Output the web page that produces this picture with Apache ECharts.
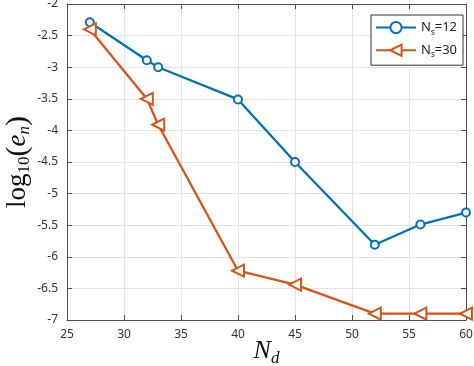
<!DOCTYPE html>
<html><head><meta charset="utf-8">
<script src="https://cdn.jsdelivr.net/npm/echarts@6/dist/echarts.min.js"></script>
<style>html,body{margin:0;padding:0;background:#fff}#c{width:474px;height:366px}</style>
</head><body><div id="c"></div>
<script>
const nd = [27, 32, 33, 40, 45, 52, 56, 60];
const ns12 = [-2.29, -2.89, -3.0, -3.51, -4.5, -5.81, -5.49, -5.3];
const ns30 = [-2.4, -3.5, -3.91, -6.22, -6.44, -6.9, -6.9, -6.9];
const seriesNames = ['Ns12', 'Ns30'];
const legendLabels = {Ns12: 'N{s|s}=12', Ns30: 'N{s|s}=30'};

const axisColor = '#4d4d4d';
const labelFont = {fontFamily: 'Noto Sans', fontSize: 12, color: '#333'};
const chart = echarts.init(document.getElementById('c'), null, {renderer: 'canvas'});
const xBase = {type: 'value', min: 25, max: 60, interval: 5,
  axisLine: {show: true, lineStyle: {color: axisColor, width: 1}},
  axisTick: {show: true, inside: true, length: 5, lineStyle: {color: axisColor}}};
const yBase = {type: 'value', min: -7, max: -2, interval: 0.5,
  axisLine: {show: true, lineStyle: {color: axisColor, width: 1}},
  axisTick: {show: true, inside: true, length: 5, lineStyle: {color: axisColor}}};
chart.setOption({
  animation: false,
  grid: {left: 67, right: 8, top: 4, bottom: 46, containLabel: false, outerBoundsMode: 'none'},
  legend: {
    data: seriesNames, orient: 'vertical', left: 371, top: 15,
    backgroundColor: '#fff', borderColor: '#333', borderWidth: 1,
    padding: [6, 6, 6, 4], itemGap: 7, itemWidth: 40, itemHeight: 14,
    formatter: n => legendLabels[n],
    textStyle: {fontFamily: 'Noto Sans', fontSize: 13, color: '#222',
      rich: {s: {fontSize: 8, verticalAlign: 'bottom', padding: [10, 0, 0, 0], fontFamily: 'Noto Sans', color: '#222'}}}
  },
  xAxis: [
    Object.assign({}, xBase, {position: 'bottom',
      axisLabel: Object.assign({margin: 9}, labelFont),
      splitLine: {show: true, lineStyle: {color: '#e3e3e3', width: 1}},
      name: '{n|N}{d|d}', nameLocation: 'middle', nameGap: 16, nameMoveOverlap: false,
      nameTextStyle: {rich: {
        n: {fontFamily: 'Liberation Serif', fontStyle: 'italic', fontSize: 26, color: '#111'},
        d: {fontFamily: 'Liberation Serif', fontStyle: 'italic', fontSize: 17, color: '#111', verticalAlign: 'bottom', padding: [14, 0, 0, 0]}}}}),
    Object.assign({}, xBase, {position: 'top', axisLabel: {show: false}, splitLine: {show: false}})
  ],
  yAxis: [
    Object.assign({}, yBase, {position: 'left',
      axisLabel: Object.assign({margin: 9}, labelFont),
      splitLine: {show: true, lineStyle: {color: '#e3e3e3', width: 1}},
      name: '{t|log}{s|10}{p|(}{e|e}{n|n}{p|)}', nameLocation: 'middle', nameGap: 34, nameRotate: 90, nameMoveOverlap: false,
      nameTextStyle: {rich: {
        t: {fontFamily: 'Liberation Serif', fontSize: 27, color: '#111'},
        s: {fontFamily: 'Liberation Serif', fontSize: 17, color: '#111', verticalAlign: 'bottom', padding: [12, 0, 0, 0]},
        p: {fontFamily: 'Liberation Serif', fontSize: 30, color: '#111'},
        e: {fontFamily: 'Liberation Serif', fontStyle: 'italic', fontSize: 27, color: '#111'},
        n: {fontFamily: 'Liberation Serif', fontStyle: 'italic', fontSize: 17, color: '#111', verticalAlign: 'bottom', padding: [12, 0, 0, 0]}}}}),
    Object.assign({}, yBase, {position: 'right', axisLabel: {show: false}, splitLine: {show: false}})
  ],
  series: [
    {name: 'Ns12', type: 'line', xAxisIndex: 0, yAxisIndex: 0,
     data: nd.map((x, i) => [x, ns12[i]]),
     symbol: 'emptyCircle', symbolSize: 8, color: '#0072BD',
     lineStyle: {width: 2.3, color: '#0072BD'},
     itemStyle: {color: '#0072BD', borderWidth: 2}},
    {name: 'Ns30', type: 'line', xAxisIndex: 0, yAxisIndex: 0,
     data: nd.map((x, i) => [x, ns30[i]]),
     symbol: 'emptyTriangle', symbolSize: 12, symbolRotate: 90, color: '#D95319',
     lineStyle: {width: 2.3, color: '#D95319'},
     itemStyle: {color: '#D95319', borderWidth: 2}}
  ]
});
</script></body></html>
